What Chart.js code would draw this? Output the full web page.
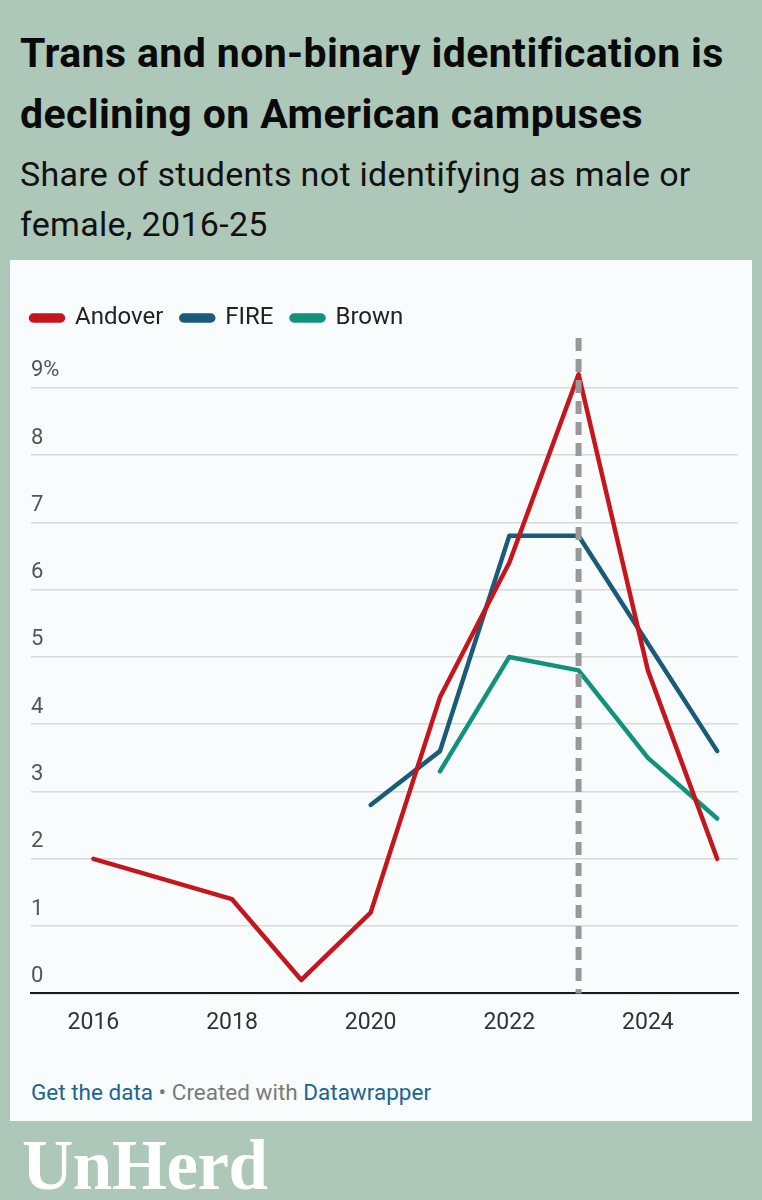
<!DOCTYPE html>
<html>
<head>
<meta charset="utf-8">
<script src="https://cdn.jsdelivr.net/npm/chart.js@4.4.0/dist/chart.umd.min.js"></script>
<style>
  html, body { margin: 0; padding: 0; }
  body {
    width: 762px; height: 1200px; position: relative; overflow: hidden;
    background: #adc7b9; font-family: Roboto, "Noto Sans", sans-serif;
  }
  #title {
    position: absolute; left: 20px; top: 23px; margin: 0;
    font-size: 41px; line-height: 61px; font-weight: 700; color: #0a0a0a;
    letter-spacing: 0.4px; white-space: nowrap;
  }
  #subtitle {
    position: absolute; left: 20px; top: 149px; margin: 0;
    font-size: 34px; line-height: 50px; font-weight: 400; color: #111;
    letter-spacing: 0.3px; white-space: nowrap;
  }
  #panel {
    position: absolute; left: 10px; top: 260px; width: 742px; height: 861px;
    background: #f9fcfc;
  }
  #wrap { position: absolute; left: 3px; top: 28px; width: 738px; height: 771px; }
  #footer {
    position: absolute; left: 21px; top: 817px; font-size: 22.5px; line-height: 30px; color: #7a7a7a;
  }
  #footer a { color: #1b6591; text-decoration: none; }
  #logo {
    position: absolute; left: 22px; top: 1130px; font-family: "Liberation Serif", serif;
    font-weight: 700; font-size: 71px; line-height: 70px; color: #fff; letter-spacing: -0.5px;
  }
</style>
</head>
<body>
<h1 id="title">Trans and non-binary identification is<br>declining on American campuses</h1>
<p id="subtitle">Share of students not identifying as male or<br>female, 2016-25</p>
<div id="panel">
  <div id="wrap"><canvas id="chart"></canvas></div>
  <div id="footer"><a>Get the data</a> • Created with <a>Datawrapper</a></div>
</div>
<div id="logo">UnHerd</div>

<script>
'use strict';

// --- dữ liệu ---
const years = [2016, 2017, 2018, 2019, 2020, 2021, 2022, 2023, 2024, 2025];
const andover = [2.0, null, 1.4, 0.2, 1.2, 4.4, 6.4, 9.2, 4.8, 2.0];
const fire    = [null, null, null, null, 2.8, 3.6, 6.8, 6.8, 5.2, 3.6];
const brown   = [null, null, null, null, null, 3.3, 5.0, 4.8, 3.5, 2.6];
const xTicks = [2016, 2018, 2020, 2022, 2024];
const yTicks = [0, 1, 2, 3, 4, 5, 6, 7, 8, 9];
const markerYear = 2023;

const COLORS = { andover: '#c4161c', fire: '#1a5b7a', brown: '#10937a' };
const LEGEND_PAD = 18;

const toPoints = (arr) => years.map((y, i) => ({ x: y, y: arr[i] }));

function lineSet(label, values, color) {
    return {
        label, data: toPoints(values),
        borderColor: color, backgroundColor: color,
        borderWidth: 4.5, pointRadius: 0, pointHoverRadius: 0,
        borderCapStyle: 'round', borderJoinStyle: 'round',
        spanGaps: true, tension: 0
    };
}

// đường đứt nét đánh dấu năm 2023
const markerLine = {
    id: 'markerLine',
    afterDatasetsDraw(chart) {
        const { ctx, chartArea, scales } = chart;
        const x = scales.x.getPixelForValue(markerYear);
        ctx.save();
        ctx.strokeStyle = '#999999';
        ctx.lineWidth = 6;
        ctx.setLineDash([13, 8]);
        ctx.beginPath();
        ctx.moveTo(x, chartArea.top - 2);
        ctx.lineTo(x, chartArea.bottom);
        ctx.stroke();
        ctx.restore();
    }
};

new Chart(document.getElementById('chart'), {
    type: 'line',
    data: {
        datasets: [
            lineSet('Andover', andover, COLORS.andover),
            lineSet('FIRE', fire, COLORS.fire),
            lineSet('Brown', brown, COLORS.brown)
        ]
    },
    options: {
        responsive: true, maintainAspectRatio: false, animation: false,
        events: [],
        layout: { padding: { top: 0, right: 13, bottom: 6, left: 0 } },
        plugins: {
            tooltip: { enabled: false },
            legend: {
                position: 'top', align: 'start',
                labels: {
                    boxWidth: 32, boxHeight: 5, padding: LEGEND_PAD,
                    useBorderRadius: true, borderRadius: 2.5,
                    color: '#222', font: { family: 'Roboto', size: 24 }
                }
            }
        },
        scales: {
            x: {
                type: 'linear', min: 2015.1, max: 2025.3,
                afterBuildTicks: (s) => { s.ticks = xTicks.map(v => ({ value: v })); },
                grid: { display: false, drawTicks: false },
                border: { display: true, color: '#1a1a1a', width: 2 },
                ticks: { padding: 16, color: '#333', font: { family: 'Roboto', size: 23 }, maxRotation: 0, callback: (v) => String(v) }
            },
            y: {
                min: 0, max: 9.71,
                afterBuildTicks: (s) => { s.ticks = yTicks.map(v => ({ value: v })); },
                afterFit: (s) => { s.width = LEGEND_PAD; },
                grid: { color: '#d8d8d8', lineWidth: 1.5, drawTicks: false },
                border: { display: false },
                ticks: {
                    mirror: true, padding: 0, labelOffset: -17, z: 1,
                    color: '#555', font: { family: 'Roboto', size: 22 },
                    callback: (v) => v === 9 ? '9%' : String(v)
                }
            }
        }
    },
    plugins: [markerLine]
});
</script>
</body>
</html>
